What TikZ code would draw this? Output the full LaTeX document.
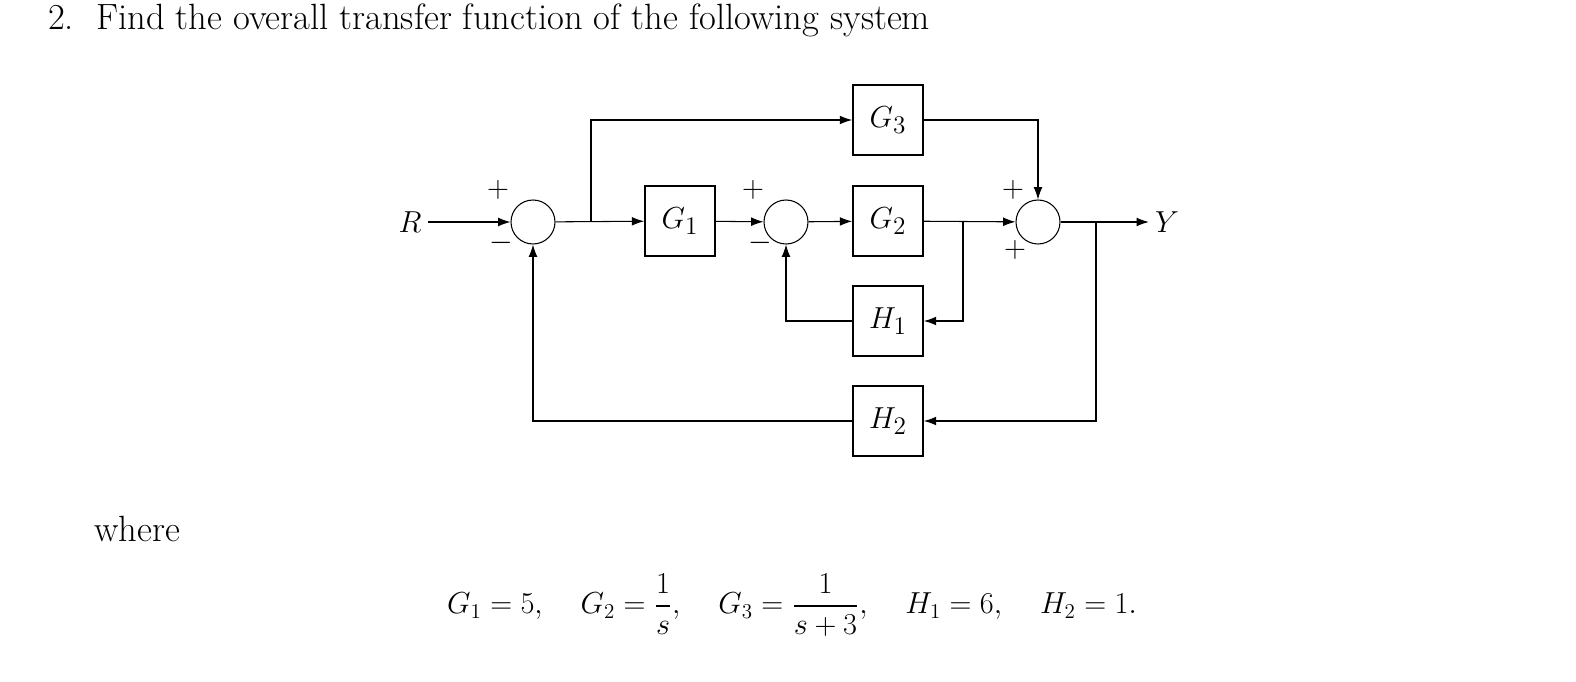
\documentclass[tikz,border=0pt]{standalone}
\usepackage{amsmath}
\usetikzlibrary{arrows.meta}
\begin{document}
\begin{tikzpicture}[x=0.02cm,y=-0.02cm,
    font=\fontsize{19}{22}\selectfont,
    blk/.style={draw,line width=1pt,minimum width=1.4cm,minimum height=1.4cm,inner sep=0pt},
    sum/.style={draw,line width=0.6pt,circle,minimum size=0.88cm,inner sep=0pt},
    sig/.style={line width=0.6pt,-{Latex[length=7pt,width=5pt]}},
    sgn/.style={font=\fontsize{18}{20}\selectfont},
    txt/.style={font=\fontsize{20.8}{24}\selectfont}]
    \useasboundingbox (0,0) rectangle (1576,682);

    % Question text
    \node[txt,anchor=base west] (title) at (42,30) {2.\ \ Find the overall transfer function of the following system};
    \node[txt,anchor=base west] (where) at (88,541) {where};

    % Blocks and summing junctions
    \node (r) at (410,222) {$R$};
    \node[sum] (s1) at (533,222) {};
    \node[blk] (g1) at (680,221) {$G_1$};
    \node[sum] (s2) at (786,222) {};
    \node[blk] (g2) at (888,221) {$G_2$};
    \node[blk] (g3) at (888,120) {$G_3$};
    \node[blk] (h1) at (888,321) {$H_1$};
    \node[blk] (h2) at (888,421) {$H_2$};
    \node[sum] (s3) at (1038,222) {};
    \node (y) at (1167,222) {$Y$};

    % Branch points
    \coordinate (b1) at (591,222);
    \coordinate (b2) at (963,222);
    \coordinate (b3) at (1096,222);

    % Signs
    \node[sgn] (p1) at (498,190) {$+$};
    \node[sgn] (m1) at (501,243) {$-$};
    \node[sgn] (p2) at (753,190) {$+$};
    \node[sgn] (m2) at (760,243) {$-$};
    \node[sgn] (p3) at (1013,190) {$+$};
    \node[sgn] (p4) at (1015,250) {$+$};

    % Forward path
    \draw[sig] (r) -- (s1);
    \draw[sig] (s1) -- (g1);
    \draw[sig] (g1) -- (s2);
    \draw[sig] (s2) -- (g2);
    \draw[sig] (g2) -- (s3);
    \draw[sig] (s3) -- (y);
    \draw[sig] (b1) |- (g3);
    \draw[sig] (g3) -| (s3);

    % Feedback loops
    \draw[sig] (b2) |- (h1);
    \draw[sig] (h1) -| (s2);
    \draw[sig] (b3) |- (h2);
    \draw[sig] (h2) -| (s1);

    % Values
    \node[font=\fontsize{18.7}{22}\selectfont] (eq) at (792,605) {$G_1=5,\quad G_2=\dfrac{1}{s},\quad G_3=\dfrac{1}{s+3},\quad H_1=6,\quad H_2=1.$};
\end{tikzpicture}
\end{document}
